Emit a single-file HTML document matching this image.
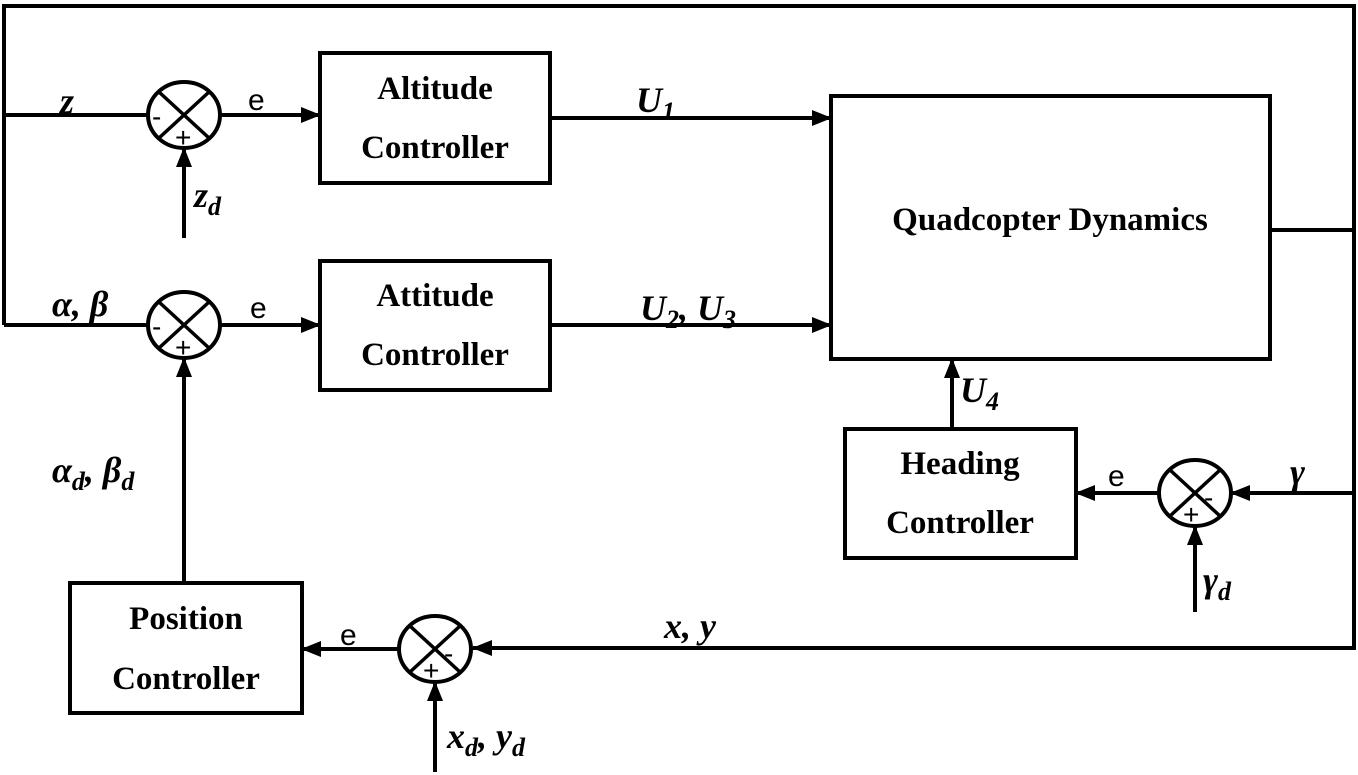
<!DOCTYPE html>
<html><head><meta charset="utf-8"><style>
html,body{margin:0;padding:0;background:#fff;}
svg{display:block;}
.b{font-family:"Liberation Serif",serif;font-weight:bold;font-size:33px;text-anchor:middle;}
.m{font-family:"Liberation Serif",serif;font-weight:bold;font-style:italic;font-size:36px;}
.s{font-size:26px;}
.e{font-family:"Liberation Sans",sans-serif;font-size:30px;}
.p{font-family:"Liberation Sans",sans-serif;font-size:28px;}
</style></head><body>
<svg width="1358" height="775" viewBox="0 0 1358 775" xmlns="http://www.w3.org/2000/svg">
<defs><marker id="A" markerWidth="20" markerHeight="20" refX="19" refY="10" orient="auto" markerUnits="userSpaceOnUse" viewBox="0 0 20 20"><path d="M0,2 L20,10 L0,18 z" fill="#000"/></marker></defs>
<g stroke="#000" stroke-width="4" fill="none">
<polyline points="4,325 4,6 1354,6 1354,648 473,648" marker-end="url(#A)"/>
<line x1="4" y1="115" x2="148" y2="115"/>
<line x1="4" y1="325" x2="148" y2="325"/>
<rect x="320" y="53" width="230" height="130"/>
<rect x="320" y="261" width="230" height="129"/>
<rect x="831" y="96" width="439" height="263"/>
<rect x="845" y="429" width="231" height="129"/>
<rect x="70" y="583" width="232" height="130"/>
<ellipse cx="184" cy="115" rx="36" ry="33"/>
<ellipse cx="184" cy="325" rx="36" ry="33"/>
<ellipse cx="1195" cy="493" rx="36" ry="33"/>
<ellipse cx="435" cy="649" rx="36" ry="33"/>
<g stroke-width="3.5">
<path d="M159,92 L209,138 M209,92 L159,138"/>
<path d="M159,302 L209,348 M209,302 L159,348"/>
<path d="M1170,470 L1220,516 M1220,470 L1170,516"/>
<path d="M410,626 L460,672 M460,626 L410,672"/>
</g>
<line x1="220" y1="115" x2="320" y2="115" marker-end="url(#A)"/>
<line x1="220" y1="325" x2="320" y2="325" marker-end="url(#A)"/>
<line x1="184" y1="238" x2="184" y2="148" marker-end="url(#A)"/>
<line x1="184" y1="583" x2="184" y2="358" marker-end="url(#A)"/>
<line x1="550" y1="118" x2="831" y2="118" marker-end="url(#A)"/>
<line x1="550" y1="325" x2="831" y2="325" marker-end="url(#A)"/>
<line x1="1270" y1="230" x2="1354" y2="230"/>
<line x1="952" y1="429" x2="952" y2="359" marker-end="url(#A)"/>
<line x1="1354" y1="493" x2="1231" y2="493" marker-end="url(#A)"/>
<line x1="1159" y1="493" x2="1076" y2="493" marker-end="url(#A)"/>
<line x1="1195" y1="612" x2="1195" y2="526" marker-end="url(#A)"/>
<line x1="399" y1="649" x2="302" y2="649" marker-end="url(#A)"/>
<line x1="435" y1="772" x2="435" y2="682" marker-end="url(#A)"/>
</g>
<g class="p">
<text x="152" y="126">-</text><text x="175" y="147">+</text>
<text x="152" y="336">-</text><text x="175" y="357">+</text>
<text x="1204" y="507">-</text><text x="1183" y="524">+</text>
<text x="444" y="663">-</text><text x="423" y="680">+</text>
</g>
<text class="b" x="435" y="99">Altitude</text>
<text class="b" x="435" y="158">Controller</text>
<text class="b" x="435" y="306">Attitude</text>
<text class="b" x="435" y="365">Controller</text>
<text class="b" x="1050" y="230">Quadcopter Dynamics</text>
<text class="b" x="960" y="474">Heading</text>
<text class="b" x="960" y="533">Controller</text>
<text class="b" x="186" y="629">Position</text>
<text class="b" x="186" y="689">Controller</text>
<text class="e" x="248" y="110">e</text>
<text class="e" x="250" y="318">e</text>
<text class="e" x="1108" y="486">e</text>
<text class="e" x="340" y="645">e</text>
<text class="m" x="60" y="113">z</text>
<text class="m" x="194" y="207">z<tspan class="s" dy="8">d</tspan></text>
<text class="m" x="52" y="316">α, β</text>
<text class="m" x="52" y="482">α<tspan class="s" dy="8">d</tspan><tspan dy="-8">, β</tspan><tspan class="s" dy="8">d</tspan></text>
<text class="m" x="636" y="112">U<tspan class="s" dy="8">1</tspan></text>
<text class="m" x="640" y="320">U<tspan class="s" dy="8">2</tspan><tspan dy="-8">, U</tspan><tspan class="s" dy="8">3</tspan></text>
<text class="m" x="960" y="402">U<tspan class="s" dy="8">4</tspan></text>
<text class="m" x="1290" y="484">γ</text>
<text class="m" x="1203" y="592">γ<tspan class="s" dy="8">d</tspan></text>
<text class="m" x="664" y="638">x, y</text>
<text class="m" x="447" y="748">x<tspan class="s" dy="8">d</tspan><tspan dy="-8">, y</tspan><tspan class="s" dy="8">d</tspan></text>
</svg>
</body></html>
